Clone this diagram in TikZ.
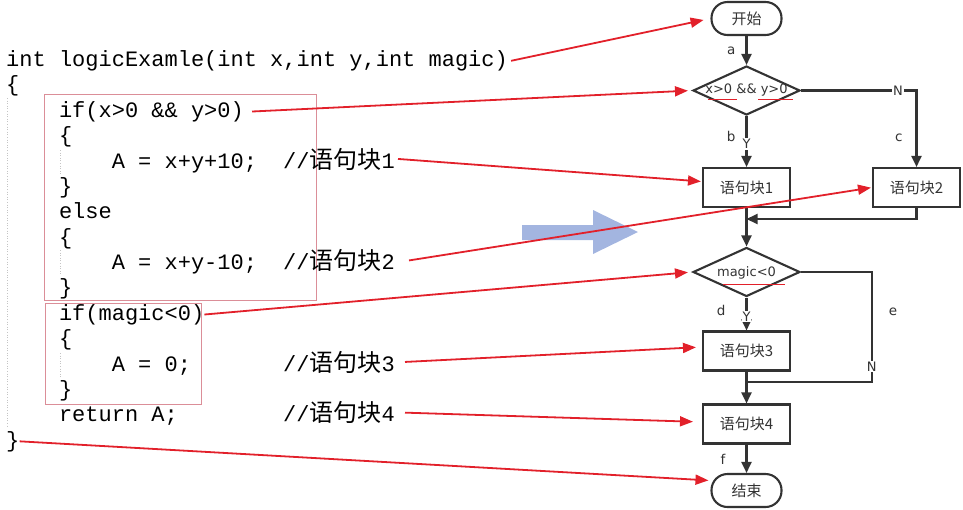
\documentclass[tikz,border=0pt]{standalone}
\usepackage{fontspec}
\setmonofont{Liberation Mono}
\newfontfamily\cjk{Noto Sans CJK SC}
\newfontfamily\dejavu{DejaVu Sans}
\usetikzlibrary{arrows.meta,calc,positioning,shapes.geometric}
\definecolor{LinkRed}{HTML}{E2202A}
\definecolor{FlowGray}{HTML}{333333}
\definecolor{BoxPink}{HTML}{DB8E98}
\definecolor{ArrowBlue}{HTML}{A3B5E0}
\definecolor{GuideGray}{HTML}{C4C4C4}
\newcommand{\codecjk}[1]{{\cjk\fontsize{24}{26}\selectfont #1}}

\begin{document}
\begin{tikzpicture}[
      x=1pt,y=-1pt,
      code/.style={anchor=base west,inner sep=0pt,text=black,font=\fontsize{22}{26}\selectfont\ttfamily},
      term/.style={draw=FlowGray,line width=2.1pt,rounded corners=16pt,minimum width=70pt,minimum height=33pt,inner sep=0pt,text=FlowGray,font=\fontsize{15}{17}\selectfont\cjk},
      stepbox/.style={draw=FlowGray,line width=2.1pt,minimum width=87pt,minimum height=39pt,inner sep=0pt,text=FlowGray,font=\fontsize{15}{17}\selectfont\cjk},
      decision/.style={diamond,draw=FlowGray,line width=2.1pt,minimum width=107pt,minimum height=49pt,inner sep=0pt},
      dtext/.style={inner sep=0pt,text=FlowGray,font=\fontsize{13}{15}\selectfont\dejavu},
      lbl/.style={inner sep=0pt,text=FlowGray,font=\fontsize{13.5}{15}\selectfont\dejavu},
      yn/.style={inner sep=1pt,fill=white,text=FlowGray,font=\fontsize{13}{14}\selectfont\dejavu},
      flow/.style={draw=FlowGray,line width=2.1pt,-{Triangle[length=11pt,width=10pt]}},
      line/.style={draw=FlowGray,line width=2.1pt},
      link/.style={draw=LinkRed,line width=1.8pt,-{Triangle[length=13pt,width=10pt]},shorten >=4pt},
      spell/.style={draw=LinkRed,line width=0.7pt},
      guide/.style={draw=GuideGray,line width=0.6pt,dotted}
    ]
      \useasboundingbox (0,0) rectangle (963,509);

      % big arrow between code and chart
      \fill[ArrowBlue] (522,225) -- (593,225) -- (593,210) -- (638,232)
        -- (593,254) -- (593,240) -- (522,240) -- cycle;

      % code side
      \draw[guide] (7,98) -- (7,428);
      \draw[guide] (60,150) -- (60,175);
      \draw[guide] (60,250) -- (60,275);
      \draw[guide] (60,353) -- (60,378);
      \draw[BoxPink,line width=0.8pt] (44.3,94.3) rectangle (316,300);
      \draw[BoxPink,line width=0.8pt] (45.3,303.3) rectangle (201.7,404.3);

      \node[code] (l1) at (6,66.5) {int logicExamle(int x,int y,int magic)};
      \node[code] (l2) at (6,91.9) {\{};
      \node[code] (l3) at (58.8,117.2) {if(x>0 \&\& y>0)};
      \node[code] (l4) at (58.8,142.6) {\{};
      \node[code] (l5) at (111.6,168) {A = x+y+10;};
      \node[code] (c1) at (283,168) {//\codecjk{语句块}1};
      \node[code] (l6) at (58.8,193.4) {\}};
      \node[code] (l7) at (58.8,218.7) {else};
      \node[code] (l8) at (58.8,244.1) {\{};
      \node[code] (l9) at (111.6,269.5) {A = x+y-10;};
      \node[code] (c2) at (283,269.5) {//\codecjk{语句块}2};
      \node[code] (l10) at (58.8,294.8) {\}};
      \node[code] (l11) at (58.8,320.2) {if(magic<0)};
      \node[code] (l12) at (58.8,345.6) {\{};
      \node[code] (l13) at (111.6,371) {A = 0;};
      \node[code] (c3) at (283,371) {//\codecjk{语句块}3};
      \node[code] (l14) at (58.8,396.3) {\}};
      \node[code] (l15) at (58.8,421.7) {return A;};
      \node[code] (c4) at (283,421.7) {//\codecjk{语句块}4};
      \node[code] (l16) at (6,447) {\}};

      % flow chart
      \node[term] (start) at (746.5,18.5) {开始};
      \node[decision] (d1) at (746.5,90.5) {};
      \node[dtext] (d1t) at (d1) {x>0 \&\& y>0};
      \node[stepbox] (b1) at (746.5,187.5) {语句块1};
      \node[stepbox] (b2) at (916.5,187.5) {语句块2};
      \node[decision] (d2) at (746.5,272) {};
      \node[dtext] (d2t) at ([yshift=-1pt]d2.center) {magic<0};
      \node[stepbox] (b3) at (746.5,351) {语句块3};
      \node[stepbox] (b4) at (746.5,424) {语句块4};
      \node[term] (stop) at (746.5,490.5) {结束};
      \coordinate (m1) at (746.5,219);
      \coordinate (e1) at (871.7,382);
      \coordinate (m2) at (746.5,382);

      \draw[spell] (708,99) -- (737,99);
      \draw[spell] (758,99) -- (793,99);
      \draw[spell] (723,284) -- (785,284);

      \draw[flow] (start) -- node[lbl,left=10pt,pos=.5] (la) {a} (d1);
      \draw[flow] (d1) -- node[lbl,left=10pt,pos=.41] (lb) {b}
        node[yn,pos=.55] (y1) {Y} (b1);
      \draw[flow] (d1.east) -| node[yn,pos=.42] (n1) {N}
        node[lbl,left=13pt,pos=.81] (lc) {c} (b2.north);
      \draw[flow] (b1) -- (d2);
      \draw[flow] (b2.south) |- (m1);
      \draw[flow] (d2) -- node[lbl,left=20pt,pos=.4] (ld) {d}
        node[yn,pos=.58] (y2) {Y} (b3);
      \draw[line] (d2.east) -| node[lbl,right=16pt,pos=.68] (le) {e}
        node[yn,pos=.93] (n2) {N} (e1) -- (m2);
      \draw[flow] (b3) -- (b4);
      \draw[flow] (b4) -- node[lbl,left=20pt,pos=.52] (lf) {f} (stop);

      % links from code to chart
      \draw[link,shorten >=7pt] ([xshift=3pt]l1.east) -- (start.west);
      \draw[link] ([xshift=8pt]l3.east) -- (d1.west);
      \draw[link,shorten >=1pt] ([xshift=3pt]c1.east) -- ([yshift=6pt]b1.west);
      \draw[link,shorten >=1pt] ([xshift=14pt]c2.east) -- (b2.west);
      \draw[link] (l11.east) -- (d2.west);
      \draw[link,shorten >=6pt] ([xshift=10pt]c3.east) -- ([yshift=4pt]b3.west);
      \draw[link,shorten >=9pt] ([xshift=10pt]c4.east) -- ([yshift=2pt]b4.west);
      \draw[link,shorten >=2pt] (l16.east) -- ([yshift=10pt]stop.west);
    \end{tikzpicture}
\end{document}
